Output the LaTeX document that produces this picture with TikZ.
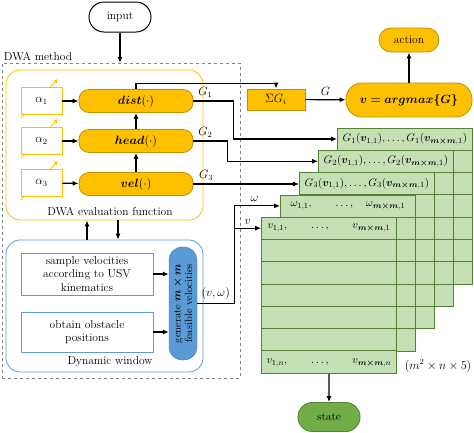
\documentclass[tikz,border=0pt]{standalone}
\usepackage{amsmath,bm}
\usetikzlibrary{positioning, calc, arrows.meta}
\definecolor{gold}{HTML}{FFC000}
\definecolor{golddark}{HTML}{BF9000}
\definecolor{bluebox}{HTML}{5B9BD5}
\definecolor{bluedark}{HTML}{41719C}
\definecolor{greenfill}{HTML}{C5E0B4}
\definecolor{greendark}{HTML}{548235}
\definecolor{stategreen}{HTML}{70AD47}

\begin{document}
\begin{tikzpicture}[x=1pt, y=-1pt, font=\fontsize{11.5}{13.5}\selectfont,
		line/.style={line width=1.2pt, -{Latex[length=6pt, width=5pt]}},
		func/.style={draw=golddark, fill=gold, rounded corners=10pt, minimum width=114pt, minimum height=23pt, inner sep=0pt, line width=0.8pt},
		weight/.style={draw=gold, fill=white, minimum width=41pt, minimum height=27pt, inner sep=0pt, line width=0.8pt},
		tune/.style={gold, line width=0.8pt, -{Latex[length=4pt, width=4pt]}},
		task/.style={draw=bluebox, fill=white, minimum width=132pt, align=center, inner sep=1pt, line width=0.8pt},
		layer/.style={draw=greendark, fill=greenfill, minimum width=135pt, minimum height=156pt, anchor=north west, inner sep=0pt, line width=0.8pt},
		row/.style={minimum width=135pt, minimum height=22pt, inner sep=0pt, font=\fontsize{11}{13}\selectfont}]
		\useasboundingbox (0,0) rectangle (474,432);
		% frames
		\node[draw=gray, dashed, minimum width=238pt, minimum height=315pt] (dwa) at (121,220.5) {};
		\node[anchor=south west, inner sep=1pt] (dwalabel) at ($(dwa.north west)+(1,-1)$) {DWA method};
		\node[draw=gold, rounded corners=14pt, minimum width=197pt, minimum height=150pt, line width=0.8pt] (evalbox) at (104.5,145) {};
		\node (evallabel) at (110,212) {DWA evaluation function};
		\node[draw=bluebox, rounded corners=14pt, minimum width=197pt, minimum height=132pt, line width=0.8pt] (dynbox) at (104.5,306) {};
		\node (dynlabel) at (110,362) {Dynamic window};
		\node[draw, rounded corners=15pt, minimum width=62pt, minimum height=30pt, line width=1pt] (input) at (120,17) {input};
		\draw[line] (input.south) -- (input.south |- dwa.north);
		% evaluation terms
		\node[func] (dist) at (136,101) {$\bm{dist}(\cdot)$};
		\node[func] (head) at (136,141) {$\bm{head}(\cdot)$};
		\node[func] (vel) at (136,184) {$\bm{vel}(\cdot)$};
		\foreach \i/\y/\f in {1/101/dist, 2/141/head, 3/183/vel} {
			\draw[tune] (21,{\y+17}) -- (58,{\y-22});
			\node[weight] (a\i) at (41.5,\y) {$\alpha_\i$};
			\draw[line] (a\i) -- (\f);
		}
		\draw[line] (vel) -- (head);
		\draw[line] (head) -- (dist);
		% window
		\node[task, minimum height=42pt] (sample) at (87,274) {sample velocities\\according to USV\\kinematics};
		\node[task, minimum height=40pt] (obtain) at (87,332) {obtain obstacle\\positions};
		\node[draw=bluedark, fill=bluebox, rounded corners=13pt, minimum width=113pt, minimum height=28pt, inner sep=0pt, align=center, rotate=90, font=\fontsize{10.5}{11.5}\selectfont] (gen) at (183,303.5) {generate $\bm{m\times m}$\\feasible velocities};
		\draw[line] (sample.east) -- (sample.east -| gen.north);
		\draw[line] (obtain.east) -- (obtain.east -| gen.north);
		\draw[line] (sample.north |- dynbox.north) -- (sample.north |- evalbox.south);
		\draw[line] ($(evalbox.south)+(13.5,0)$) -- ($(dynbox.north)+(13.5,0)$);
		% decision
		\node[draw=golddark, fill=gold, minimum width=58pt, minimum height=21pt, inner sep=0pt, line width=0.8pt] (sum) at (276,99.5) {$\Sigma G_i$};
		\node[func, minimum width=126pt, minimum height=34pt, rounded corners=16pt] (argmax) at (409,100) {$\bm{v=argmax\{G\}}$};
		\node[func, minimum width=60pt, minimum height=24pt, rounded corners=12pt] (action) at (409,40) {action};
		\draw[line] (dist.north) -- ++(0,-6) -| (sum.north);
		\draw[line] (sum) -- node[above] {$G$} (argmax);
		\draw[line] (argmax) -- (action);
		% candidate tables
		\foreach \k in {4,3,2,1,0} {
			\node[layer] (L\k) at ({261+19*\k},{217-22.3*\k}) {};
			\foreach \r in {1,...,6}
				\draw[greendark, line width=0.8pt] ($(L\k.north west)+(0,{22.3*\r})$) -- ++(135,0);
		}
		\node[row] (g1row) at ($(L4.north)+(0,11.15)$) {$G_1(\bm{v}_{1,1}),\dots,G_1(\bm{v}_{\bm{m\times m},1})$};
		\node[row] (g2row) at ($(L3.north)+(0,11.15)$) {$G_2(\bm{v}_{1,1}),\dots,G_2(\bm{v}_{\bm{m\times m},1})$};
		\node[row] (g3row) at ($(L2.north)+(0,11.15)$) {$G_3(\bm{v}_{1,1}),\dots,G_3(\bm{v}_{\bm{m\times m},1})$};
		\node[row] (wrow) at ($(L1.north)+(0,11.15)$) {$\omega_{1,1},\qquad\dots,\quad\omega_{\bm{m\times m},1}$};
		\node[row] (vrow) at ($(L0.north)+(0,11.15)$) {$v_{1,1},\qquad\dots,\qquad v_{\bm{m\times m},1}$};
		\node[row] (vnrow) at ($(L0.south)+(0,-11.15)$) {$v_{1,n},\qquad\dots,\qquad v_{\bm{m\times m},n}$};
		\node (size) at (438,366) {$(m^2\times n\times 5)$};
		\node[draw=greendark, fill=stategreen, rounded corners=14pt, minimum width=62pt, minimum height=29pt, line width=0.8pt] (state) at (329,417) {state};
		\draw[line] (L0.south) -- (state.north);
		% connectors
		\draw[line] (dist.east) -- node[above, pos=0.3] {$G_1$} ++(40,0) |- (g1row.west);
		\draw[line] (head.east) -- node[above, pos=0.35] {$G_2$} ++(34,0) |- (g2row.west);
		\draw[line] (vel.east) -- node[above, pos=0.12] {$G_3$} (vel.east -| g3row.west);
		\draw[line] (gen.south) -- node[above] {$(v,\omega)$} ++(37,0) coordinate (vw) |- node[above, pos=0.72] {$\omega$} (wrow.west);
		\draw[line] (vw |- vrow.west) -- node[above] {$v$} (vrow.west);
	\end{tikzpicture}
\end{document}
